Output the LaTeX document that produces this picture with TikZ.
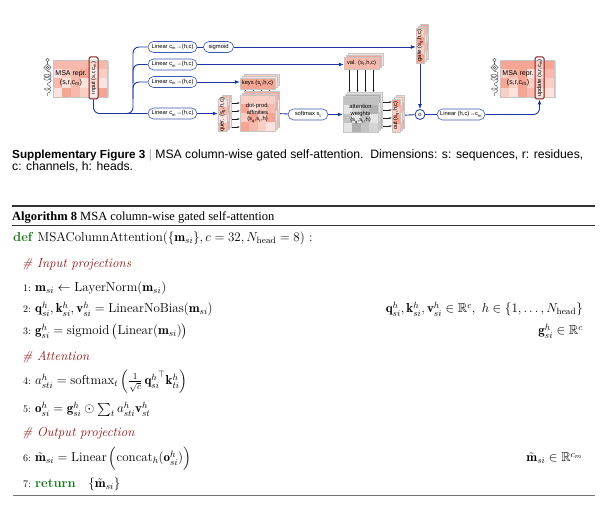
\RequirePackage{fix-cm}
\documentclass[tikz,border=0pt]{standalone}
\usepackage{amsmath,amssymb}
\usepackage{fontspec}
\usetikzlibrary{arrows.meta,calc,decorations.pathmorphing}
\newfontfamily\capfont{Liberation Sans}
\newfontfamily\ttlfont{Liberation Serif}
\definecolor{lblue}{RGB}{30,55,160}
\definecolor{boxblue}{RGB}{60,90,175}
\definecolor{salmon}{RGB}{238,110,80}
\definecolor{dred}{RGB}{135,25,25}
\definecolor{dgreen}{RGB}{25,120,25}
\definecolor{cred}{RGB}{145,20,20}
\newcommand\tinyf{\capfont\fontsize{5.8}{6.8}\selectfont}
\newcommand\smallf{\capfont\fontsize{7}{8.5}\selectfont}
\newcommand\algbody{\fontsize{13}{16}\selectfont}
\newcommand\lnum{\fontsize{10}{12}\selectfont}
\newcommand\cellgrid[8]{%
  \pgfmathsetmacro\cgw{#3/#5}\pgfmathsetmacro\cgh{#4/#6}%
  \foreach \ci in {1,...,#5}{\foreach \cj in {1,...,#6}{%
    \pgfmathtruncatemacro\cgp{20+14*mod(3*\ci+5*\cj+\ci*\cj+#8,4)}%
    \fill[#7!\cgp!white] ({#1+(\ci-1)*\cgw},{#2+(\cj-1)*\cgh}) rectangle ++(\cgw,\cgh);
  }}}
\newcommand\stackbg[8]{%
  \foreach \sk in {2,1,0}{%
    \begin{scope}[shift={(2*\sk,-2*\sk)}]
      \fill[gray!35] ({#1+0.8},{#2+0.8}) rectangle ++(#3,#4);
      \cellgrid{#1}{#2}{#3}{#4}{#5}{#6}{#7}{\sk+#8}
      \draw[gray!45, line width=0.3pt] (#1,#2) rectangle ++(#3,#4);
    \end{scope}}}
\newcommand\protein[2]{%
  \begin{scope}[shift={(#1,#2)}, draw=gray!75!black, line width=0.5pt]
    \draw (0,0) circle (1.8);
    \draw (0,1.8) -- (0,4);
    \draw (-3.5,7.5) -- (0,4) -- (3.5,7.5) -- (0,11) -- cycle;
    \draw (0,7.5) circle (1.2);
    \draw[decorate,decoration={coil,aspect=0.6,segment length=3.2pt,amplitude=3.6pt}] (0,11) -- (0,25);
    \draw[decorate,decoration={coil,aspect=0.6,segment length=3pt,amplitude=3pt}] (0,25) -- (0,36);
  \end{scope}}
\pgfdeclarelayer{bg}
\pgfsetlayers{bg,main}
\begin{document}
\begin{tikzpicture}[x=1pt,y=-1pt,
  bl/.style={draw=lblue, line width=0.9pt},
  blar/.style={bl, -{Latex[length=5pt,width=4pt]}},
  lin/.style={draw=boxblue, line width=0.6pt, fill=white, rounded corners=5.5pt, minimum height=11pt, inner sep=1.2pt, font=\tinyf},
  frm/.style={draw=gray!45, line width=0.3pt, inner sep=0},
  gar/.style={draw=gray!25!black, line width=0.4pt, -{Latex[length=2.2pt,width=1.8pt]}},
  ubox/.style={draw=dred, line width=1pt, rounded corners=1.5pt, fill=white, fill opacity=0.45, inner sep=0, minimum width=9pt, minimum height=42pt},
  ln/.style={anchor=base west, inner sep=0, font=\algbody},
  lnr/.style={anchor=base east, inner sep=0, font=\algbody},
  num/.style={anchor=base east, inner sep=0, font=\lnum},
  cmt/.style={anchor=base west, inner sep=0, font=\algbody\itshape, text=cred},
  capt/.style={anchor=base west, inner sep=0, font=\capfont\fontsize{12.2}{14}\selectfont}]
\useasboundingbox (0,0) rectangle (600,510);
\begin{pgfonlayer}{bg}
\fill[white] (0,0) rectangle (600,510);
\end{pgfonlayer}

% ---------- left MSA repr ----------
\protein{47.5}{60}
\fill[gray!35] (54.5,61.5) rectangle ++(54,37);
\cellgrid{53}{60}{54}{37}{6}{4}{salmon}{1}
\node[frm, minimum width=54pt, minimum height=37pt] (msa1) at (80,78.5) {};
\node[font=\smallf, align=center, inner sep=0] (msa1t) at (71,78.5) {MSA repr.\\(s,r,c\textsubscript{m})};
\node[ubox] (inp) at (93.5,78) {};
\node[rotate=90, font=\tinyf, inner sep=0] (inpt) at (inp.center) {input (s,r,c\textsubscript{m})};

% ---------- right MSA repr ----------
\protein{494.5}{60}
\fill[gray!35] (501.5,61.5) rectangle ++(54,37);
\cellgrid{500}{60}{54}{37}{6}{4}{salmon}{2}
\node[frm, minimum width=54pt, minimum height=37pt] (msa2) at (527,78.5) {};
\node[font=\smallf, align=center, inner sep=0] (msa2t) at (518,78.5) {MSA repr.\\(s,r,c\textsubscript{m})};
\node[ubox] (upd) at (539.5,78) {};
\node[rotate=90, font=\tinyf, inner sep=0] (updt) at (upd.center) {update (s,r,c\textsubscript{m})};

% ---------- linear boxes ----------
\node[lin, minimum width=49pt] (l1) at (172.5,47) {Linear c\textsubscript{m}→(h,c)};
\node[lin, minimum width=49pt] (l2) at (172.5,64.5) {Linear c\textsubscript{m}→(h,c)};
\node[lin, minimum width=49pt] (l3) at (172.5,82) {Linear c\textsubscript{m}→(h,c)};
\node[lin, minimum width=49pt] (l4) at (172.5,113.5) {Linear c\textsubscript{m}→(h,c)};
\node[lin, minimum width=30pt] (sig) at (218.5,47) {sigmoid};
\node[lin, minimum width=40pt] (sm) at (308,114.5) {softmax s\textsubscript{t}};
\node[lin, minimum width=48pt] (l5) at (461,114.5) {Linear (h,c)→c\textsubscript{m}};
\node[circle, draw=lblue, line width=0.8pt, fill=white, minimum size=10pt, inner sep=0, font=\tinyf] (hp) at (420,114.5) {o};

% ---------- stacks ----------
\stackbg{416}{28}{8}{35}{1}{4}{salmon}{0}
\node[frm, minimum width=8pt, minimum height=35pt] (gate) at (420,45.5) {};
\node[rotate=90, font=\tinyf, inner sep=0] (gatet) at (gate.center) {gate (s\textsubscript{q},h,c)};

\stackbg{344}{57}{35}{12}{4}{1}{salmon}{1}
\node[frm, minimum width=35pt, minimum height=12pt] (val) at (361.5,63) {};
\node[font=\tinyf, inner sep=0] (valt) at (val.center) {val. (s\textsubscript{t},h,c)};

\stackbg{240}{78}{35}{11}{4}{1}{salmon}{2}
\node[frm, minimum width=35pt, minimum height=11pt] (keys) at (257.5,83.5) {};
\node[font=\tinyf, inner sep=0] (keyst) at (keys.center) {keys (s\textsubscript{t},h,c)};

\stackbg{218}{99}{9}{32}{1}{4}{salmon}{3}
\node[frm, minimum width=9pt, minimum height=32pt] (quer) at (222.5,115) {};
\node[rotate=90, font=\tinyf, inner sep=0] (quert) at (quer.center) {quer. (s\textsubscript{q},h,c)};

\stackbg{240}{95}{35}{36}{4}{4}{salmon}{0}
\node[frm, minimum width=35pt, minimum height=36pt] (dp) at (257.5,113) {};
\node[font=\tinyf, align=center, inner sep=0] (dpt) at (dp.center) {dot-prod.\\affinities\\(s\textsubscript{q},s\textsubscript{t},h)};

\stackbg{343}{96}{35}{36}{4}{4}{gray}{1}
\node[frm, minimum width=35pt, minimum height=36pt] (att) at (360.5,114) {};
\node[font=\tinyf, align=center, inner sep=0] (attt) at (att.center) {attention\\weights\\(s\textsubscript{q},s\textsubscript{t},h)};

\stackbg{392}{99}{8}{33}{1}{4}{salmon}{2}
\node[frm, minimum width=8pt, minimum height=33pt] (out) at (396,115.5) {};
\node[rotate=90, font=\tinyf, inner sep=0] (outt) at (out.center) {out (s\textsubscript{q},h,c)};

% ---------- connectors ----------
\begin{pgfonlayer}{bg}
\coordinate (tb) at (128,113.5);
\coordinate (tk) at (133,47);
\draw[bl, rounded corners=6pt] (inp.south) |- (l4.west);
\draw[bl, rounded corners=6pt] (tb) -| (tk) -- (l1.west);
\draw[bl, rounded corners=6pt] ($(tk)+(0,36)$) |- (l2.west);
\draw[bl, rounded corners=6pt] ($(tk)+(0,52)$) |- (l3.west);
\draw[bl] (l1) -- (sig);
\draw[blar] (sig) -- (sig -| gate.west);
\draw[blar] (l2) -- (l2 -| val.west);
\draw[blar] (l3) -- (l3 -| keys.west);
\draw[blar] (l4) -- (l4 -| quer.west);
\draw[bl] (dp) -- (sm);
\draw[blar] (sm) -- (sm -| att.west);
\draw[bl] (out) -- (hp);
\draw[blar] (gate.south -| hp) -- (hp.north);
\draw[bl] (hp) -- (l5);
\draw[blar, rounded corners=6pt] (l5.east) -| (upd.south);
\foreach \d in {-12,-4,4,12}{
  \draw[gar] ($(quer.east)+(0,\d)$) -- ($(dp.west |- quer.east)+(0,\d)$);
  \draw[gar] ($(keys.south)+(\d,0)$) -- ($(keys.south |- dp.north)+(\d,-3.6)$);
  \draw[gar] ($(val.south)+(\d,0)$) -- ($(val.south |- att.north)+(\d,-3.6)$);
  \draw[gar] ($(att.east)+(0,\d)$) -- ($(out.west |- att.east)+(0,\d)$);
}
\end{pgfonlayer}

% ---------- caption ----------
\node[capt] (cap1) at (12,159)
  {{\fontsize{11.7}{14}\selectfont\bfseries Supplementary Figure 3}\ \textcolor{gray!70}{|}\ MSA column-wise gated self-attention.\ \ Dimensions: s: sequences, r: residues,};
\node[capt] (cap2) at (12,170.5) {c: channels, h: heads.};

% ---------- algorithm ----------
\coordinate (rl) at (12,206);
\coordinate (rr) at (595,206);
\draw[line width=1.1pt, black!80] (rl) -- (rr);
\node[anchor=base west, inner sep=0, font=\ttlfont\fontsize{12.5}{15}\selectfont] (ttl) at (12,221)
  {\textbf{Algorithm 8} MSA column-wise gated self-attention};
\draw[line width=0.6pt, black!80] ($(rl)+(0,19.5)$) -- ($(rr)+(0,19.5)$);

\node[ln] (def) at (13,242) {\textcolor{dgreen}{\textbf{def}}\ MSAColumnAttention$(\{\mathbf{m}_{si}\}, c=32, N_{\mathrm{head}}=8)$ :};
\node[cmt] (c1) at (22,268) {\# Input projections};
\node[num] (n1) at (31,292) {1:};
\node[ln] (e1) at (35,292) {$\mathbf{m}_{si}\leftarrow\mathrm{LayerNorm}(\mathbf{m}_{si})$};
\node[num] (n2) at (31,313) {2:};
\node[ln] (e2) at (35,313) {$\mathbf{q}^h_{si},\mathbf{k}^h_{si},\mathbf{v}^h_{si}=\mathrm{LinearNoBias}(\mathbf{m}_{si})$};
\node[lnr] (r2) at (583,313) {$\mathbf{q}^h_{si},\mathbf{k}^h_{si},\mathbf{v}^h_{si}\in\mathbb{R}^c,\ h\in\{1,\dots,N_{\mathrm{head}}\}$};
\node[num] (n3) at (31,335) {3:};
\node[ln] (e3) at (35,335) {$\mathbf{g}^h_{si}=\mathrm{sigmoid}\,\big(\mathrm{Linear}(\mathbf{m}_{si})\big)$};
\node[lnr] (r3) at (583,335) {$\mathbf{g}^h_{si}\in\mathbb{R}^c$};
\node[cmt] (c2) at (22,361) {\# Attention};
\node[num] (n4) at (31,385) {4:};
\node[ln] (e4) at (35,385) {$a^h_{sti}=\mathrm{softmax}_t\left(\frac{1}{\sqrt{c}}\,{\mathbf{q}^{h}_{si}}^{\!\top}\mathbf{k}^h_{ti}\right)$};
\node[num] (n5) at (31,413) {5:};
\node[ln] (e5) at (35,413) {$\mathbf{o}^h_{si}=\mathbf{g}^h_{si}\odot\sum\nolimits_t a^h_{sti}\mathbf{v}^h_{st}$};
\node[cmt] (c3) at (22,437) {\# Output projection};
\node[num] (n6) at (31,462) {6:};
\node[ln] (e6) at (35,462) {$\tilde{\mathbf{m}}_{si}=\mathrm{Linear}\,\Big(\mathrm{concat}_h(\mathbf{o}^h_{si})\Big)$};
\node[lnr] (r6) at (583,462) {$\tilde{\mathbf{m}}_{si}\in\mathbb{R}^{c_m}$};
\node[num] (n7) at (31,488) {7:};
\node[ln] (e7) at (35,488) {\textcolor{dgreen}{\textbf{return}}\ \ \ $\{\tilde{\mathbf{m}}_{si}\}$};
\draw[line width=1pt, black!55] ($(rl)+(1,289)$) -- ($(rr)+(0,289)$);
\end{tikzpicture}
\end{document}
